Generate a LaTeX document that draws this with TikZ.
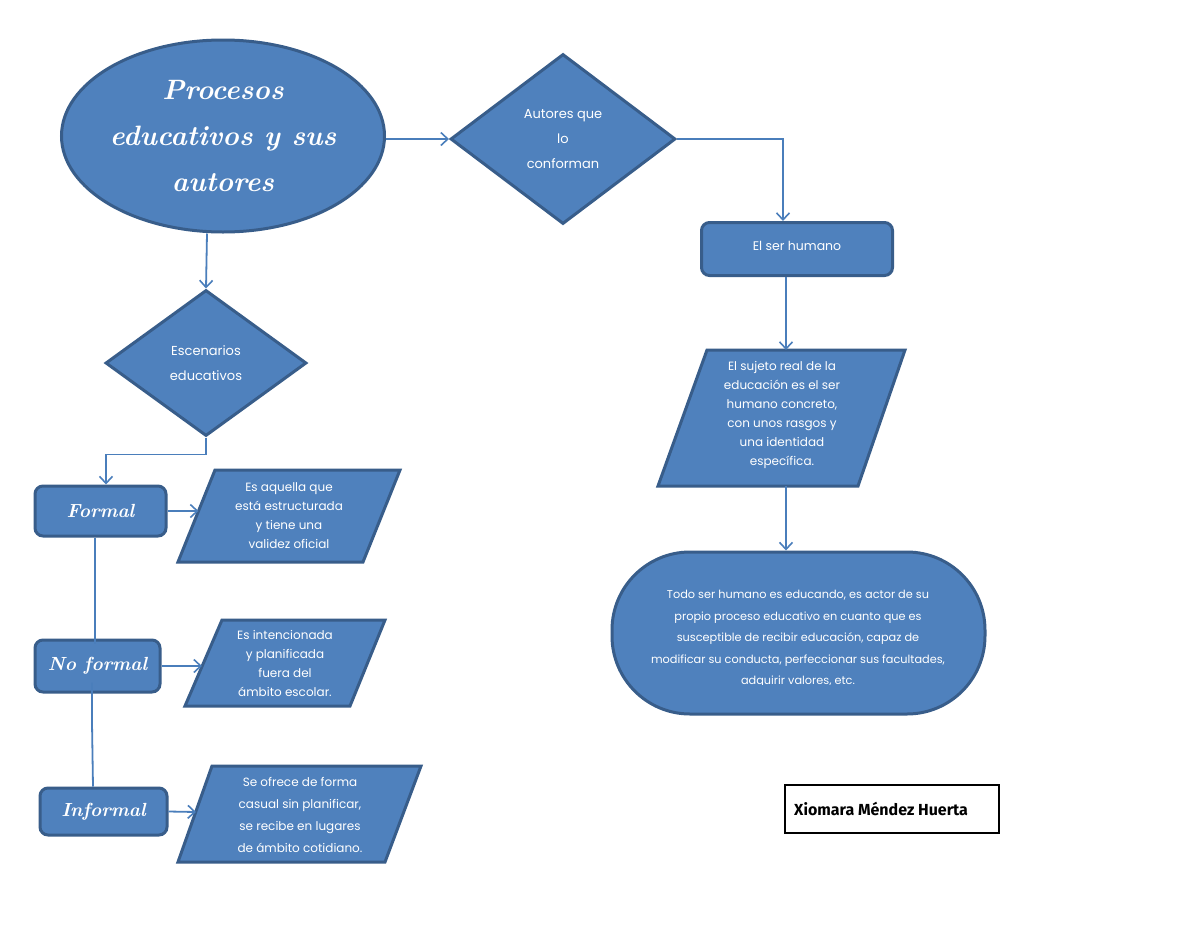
\documentclass[tikz,border=0pt]{standalone}
\usepackage{fontspec}
\setmainfont{Latin Modern Roman}
\newfontfamily\bodyfont{Poppins}
\newfontfamily\authfont{Fira Sans}
\usetikzlibrary{shapes.geometric,arrows.meta}
\definecolor{fillblue}{HTML}{4F81BD}
\definecolor{edgeblue}{HTML}{385D8A}
\definecolor{linkblue}{HTML}{4A7EBB}
\tikzset{
  shapebox/.style={fill=fillblue,draw=edgeblue,line width=3pt,text=white,align=center},
  roundbox/.style={shapebox,rectangle,rounded corners=8pt,inner sep=0pt},
  para/.style={fill=fillblue,draw=edgeblue,line width=3pt,line join=miter},
  bodytxt/.style={text=white,align=center,font=\bodyfont\fontsize{12}{19}\selectfont},
  scripttxt/.style={font=\fontsize{19}{22}\selectfont\bfseries\itshape},
  link/.style={draw=linkblue,line width=1.8pt,-{Straight Barb[length=7pt,width=13pt,line width=1.6pt]}},
  plain/.style={draw=linkblue,line width=1.8pt},
}
\begin{document}
\begin{tikzpicture}[x=1pt,y=-1pt]
\useasboundingbox[fill=white] (0,0) rectangle (1200,927);

% title ellipse
\node[shapebox,ellipse,minimum width=323pt,minimum height=192pt,inner sep=0pt,
      font=\fontsize{28}{46}\selectfont\bfseries\itshape] (title) at (223,136)
  {Procesos\\educativos y sus\\autores};

% diamond autores
\node[shapebox,diamond,minimum width=225pt,minimum height=170pt,inner sep=0pt,
      font=\bodyfont\fontsize{13}{25}\selectfont] (autores) at (563,139)
  {Autores que\\lo\\conforman};

% el ser humano
\node[roundbox,minimum width=191pt,minimum height=53pt,font=\bodyfont\fontsize{12.5}{14}\selectfont] (humano) at (797,249)
  {\raisebox{6pt}{El ser humano}};

% parallelogram sujeto
\draw[para] (707,350) -- (905,350) -- (858,486) -- (658,486) -- cycle;
\node[bodytxt] (sujeto) at (782,415)
  {El sujeto real de la\\educación es el ser\\humano concreto,\\con unos rasgos y\\una identidad\\específica.};
\coordinate (sujetoTop) at (786,350);
\coordinate (sujetoBot) at (786,486);

% stadium
\node[shapebox,rectangle,rounded corners=78pt,minimum width=373pt,minimum height=162pt,inner sep=0pt] (todo) at (798.5,633) {};
\begin{scope}
\clip (612,560) rectangle (985,684);
\node[bodytxt,font=\bodyfont\fontsize{11.3}{21.5}\selectfont] (todotxt) at (798,639)
  {Todo ser humano es educando, es actor de su\\propio proceso educativo en cuanto que es\\susceptible de recibir educación, capaz de\\modificar su conducta, perfeccionar sus facultades,\\adquirir valores, etc.};
\end{scope}

% escenarios diamond
\node[shapebox,diamond,minimum width=201pt,minimum height=146pt,inner sep=0pt,
      font=\bodyfont\fontsize{13}{25}\selectfont] (esc) at (206,363)
  {\raisebox{6pt}{\begin{tabular}{c}Escenarios\\educativos\end{tabular}}};

% left boxes
\node[roundbox,minimum width=131pt,minimum height=50pt,scripttxt] (formal) at (100.5,511) {Formal};
\node[roundbox,minimum width=125pt,minimum height=52pt,scripttxt] (noformal) at (97.5,666) {No formal};
\node[roundbox,minimum width=127pt,minimum height=47pt,scripttxt] (informal) at (103.5,811.5) {Informal};

% parallelograms left
\draw[para] (215,470) -- (400,470) -- (363,562) -- (178,562) -- cycle;
\node[bodytxt] (p1) at (289,516) {Es aquella que\\está estructurada\\y tiene una\\validez oficial};
\coordinate (p1w) at (198.5,511);

\draw[para] (222,620) -- (385,620) -- (350,706) -- (185,706) -- cycle;
\node[bodytxt] (p2) at (285,663) {Es intencionada\\y planificada\\fuera del\\ámbito escolar.};
\coordinate (p2w) at (202,666);

\draw[para] (212,766) -- (421,766) -- (385,862) -- (178,862) -- cycle;
\node[bodytxt,font=\bodyfont\fontsize{12}{22}\selectfont] (p3) at (300,815) {Se ofrece de forma\\casual sin planificar,\\se recibe en lugares\\de ámbito cotidiano.};
\coordinate (p3w) at (196,812);

% author
\node[draw=black,line width=2pt,minimum width=214pt,minimum height=48pt,inner sep=0pt,
      font=\authfont\bfseries\fontsize{16}{18}\selectfont] (author) at (892,809) {};
\node[anchor=west,inner sep=0pt,font=\authfont\bfseries\fontsize{16}{18}\selectfont] (authortxt)
  at ([xshift=10pt]author.west) {Xiomara Méndez Huerta};

% connectors
\draw[link] ([yshift=-3pt]title.east) -- (autores.west);
\draw[link] (autores.east) -| ([xshift=-14pt]humano.north);
\draw[link] ([xshift=-11pt]humano.south) -- (sujetoTop);
\draw[link] (sujetoBot) -- ([xshift=-12.5pt]todo.north);
\draw[link] ([xshift=-16pt]title.south) -- (esc.north);
\draw[link] (esc.south) -- ++(0,17) -| ([xshift=5.5pt]formal.north);
\draw[link] (formal.east) -- (p1w);
\draw[plain] ([xshift=-5.5pt]formal.south) -- ([xshift=-2.5pt,yshift=-5pt]noformal.north);
\draw[link] (noformal.east) -- (p2w);
\coordinate (gapstart) at ([xshift=-5.5pt,yshift=11pt]noformal.south);
\draw[plain] (gapstart) -- ++(0,40) -- ([xshift=-10.5pt]informal.north);
\draw[link] (informal.east) -- (p3w);
\end{tikzpicture}
\end{document}
